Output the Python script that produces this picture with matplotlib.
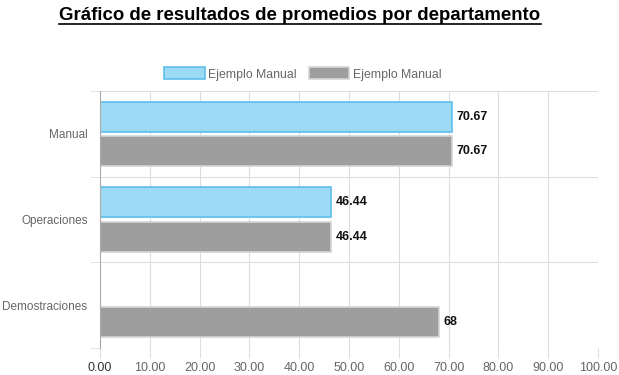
import numpy as np
import matplotlib.pyplot as plt

plt.rcParams['font.family'] = ['Liberation Sans', 'DejaVu Sans']

# Data
departments = ["Manual", "Operaciones", "Demostraciones"]
series_labels = ["Ejemplo Manual", "Ejemplo Manual"]
blue_values = [70.67, 46.44, None]
gray_values = [70.67, 46.44, 68]
blue_text = ["70.67", "46.44", ""]
gray_text = ["70.67", "46.44", "68"]
x_ticks = [0, 10, 20, 30, 40, 50, 60, 70, 80, 90, 100]

fig = plt.figure(figsize=(6.19, 3.75), dpi=100)
ax = fig.add_axes([100 / 619, 27 / 375, 498 / 619, 257 / 375])

pos = np.arange(len(departments))
bar_h = 0.35
offset = 0.2

blue_plot = [v if v is not None else 0 for v in blue_values]
blue_bars = ax.barh(pos - offset, blue_plot, height=bar_h, color='#9cdaf6',
                    edgecolor='#5cbfea', linewidth=1.2, label=series_labels[0], zorder=3)
gray_bars = ax.barh(pos + offset, gray_values, height=bar_h, color='#9e9e9e',
                    edgecolor='#d4d4d4', linewidth=1.2, label=series_labels[1], zorder=3)
for b, v in zip(blue_bars, blue_values):
    if v is None:
        b.set_visible(False)

# value labels
for i, (bv, t) in enumerate(zip(blue_values, blue_text)):
    if bv is not None:
        ax.text(bv + 0.9, pos[i] - offset, t, va='center', ha='left',
                fontsize=9, fontweight='bold', color='#111111')
for i, (gv, t) in enumerate(zip(gray_values, gray_text)):
    ax.text(gv + 0.9, pos[i] + offset, t, va='center', ha='left',
            fontsize=9, fontweight='bold', color='#111111')

ax.set_xlim(0, 100)
ax.set_ylim(2.5, -0.5)
ax.set_xticks(x_ticks)
ax.set_xticklabels([f"{v:.2f}" for v in x_ticks], color='#666666', fontsize=9)
ax.get_xticklabels()[0].set_color('#333333')
ax.set_yticks(pos)
ax.set_yticklabels(departments, color='#666666', fontsize=8.5)
ax.tick_params(axis='y', length=0, pad=9)
ax.tick_params(axis='x', length=7, color='#dddddd', pad=3)

# grid lines at band boundaries and at each x tick
ax.set_yticks([-0.5, 0.5, 1.5, 2.5], minor=True)
ax.tick_params(axis='y', which='minor', length=7, color='#dddddd')
ax.grid(True, axis='x', color='#dddddd', linewidth=0.8, zorder=0)
ax.grid(True, axis='y', which='minor', color='#dddddd', linewidth=0.8, zorder=0)

for s in ['top', 'right', 'bottom']:
    ax.spines[s].set_visible(False)
ax.spines['left'].set_color('#aaaaaa')
ax.spines['left'].set_zorder(4)

leg = fig.legend(handles=[blue_bars, gray_bars], labels=series_labels, loc='center',
                 bbox_to_anchor=(303 / 619, 1 - 74 / 375), ncol=2, frameon=False,
                 fontsize=8.8, handlelength=3.3, handleheight=1.1, columnspacing=1.0,
                 handletextpad=0.3)
for t in leg.get_texts():
    t.set_color('#666666')

fig.text(300 / 619, 1 - 16 / 375, "Gráfico de resultados de promedios por departamento",
         ha='center', va='center', fontsize=13.4, fontweight='bold', color='black')
# underline for the title
fig.canvas.draw()
title = fig.texts[-1]
bb = title.get_window_extent().transformed(fig.transFigure.inverted())
fig.add_artist(plt.Line2D([bb.x0, bb.x1], [bb.y0 + 0.002, bb.y0 + 0.002],
                          color='black', linewidth=1.2, transform=fig.transFigure))

fig.savefig("out.png", dpi=100)
